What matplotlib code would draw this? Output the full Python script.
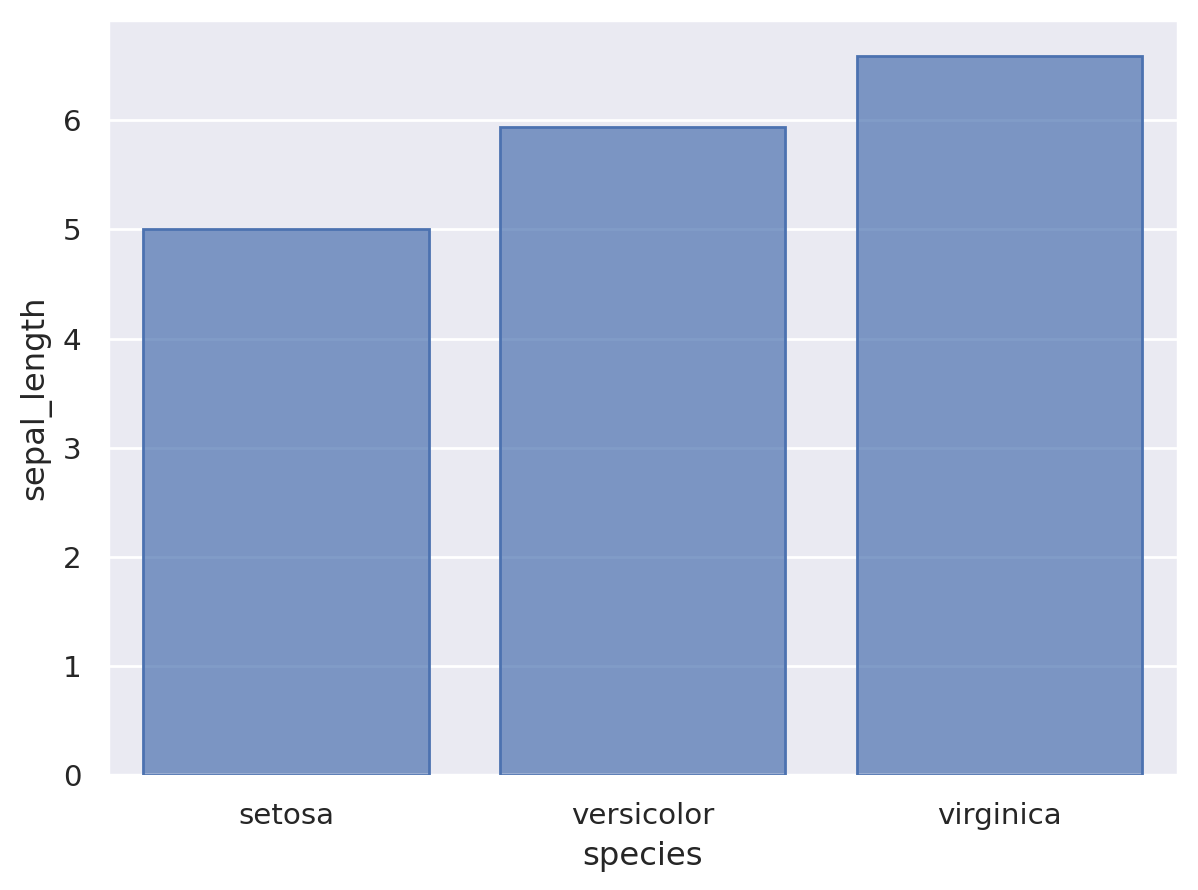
import matplotlib
matplotlib.use("Agg")
import matplotlib.pyplot as plt
import seaborn as sns

# mean sepal length per iris species
species = ["setosa", "versicolor", "virginica"]
sepal_length = [5.006, 5.936, 6.588]

sns.set_theme(style="darkgrid", context="notebook")
plt.rcParams["font.family"] = ["DejaVu Sans"]
plt.rcParams["axes.labelsize"] = 11.6
plt.rcParams["xtick.labelsize"] = 10.6
plt.rcParams["ytick.labelsize"] = 10.6

color = sns.color_palette("deep")[0]

fig, ax = plt.subplots(figsize=(5.99, 4.45), dpi=200)
x = range(len(species))
ax.bar(x, sepal_length, width=0.8, color=color, alpha=0.7,
       edgecolor="none", zorder=2)
ax.bar(x, sepal_length, width=0.8, facecolor="none",
       edgecolor=color, linewidth=1, zorder=3)

ax.set_xticks(list(x))
ax.set_xticklabels(species)
ax.set_xlim(-0.5, 2.5)
ax.set_ylim(0, max(sepal_length) * 1.05)
ax.xaxis.grid(False)
ax.set_xlabel("species")
ax.set_ylabel("sepal_length")

fig.subplots_adjust(left=0.090, right=0.983, top=0.9775, bottom=0.129)
plt.savefig("out.png", dpi=200)
